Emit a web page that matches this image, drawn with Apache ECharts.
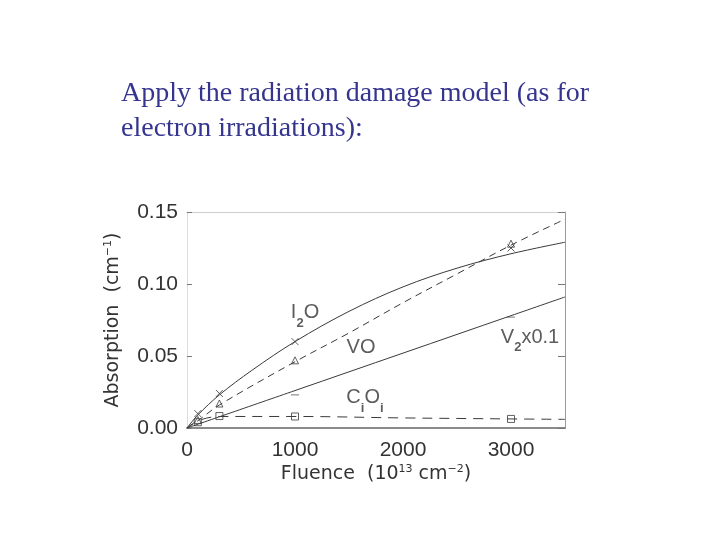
<!DOCTYPE html>
<html>
<head>
<meta charset="utf-8">
<script src="https://cdn.jsdelivr.net/npm/echarts@6/dist/echarts.min.js"></script>
<style>
  html, body { margin: 0; padding: 0; background: #fff; }
  #chart { width: 720px; height: 540px; }
</style>
</head>
<body>
<div id="chart"></div>
<script>
// Измеренные точки (флюенс, поглощение)
const i2oPoints = [[100, 0.010], [300, 0.024], [1000, 0.060], [3000, 0.125]];
const voPoints = [[100, 0.0056], [300, 0.017], [1000, 0.047], [3000, 0.128]];
const v2Points = [[1000, 0.023], [3000, 0.077]];
const cioiPoints = [[100, 0.004], [300, 0.0083], [1000, 0.008], [3000, 0.0063]];

// Кривые модели
const i2oModel = [[0, 0], [100, 0.009], [300, 0.023], [600, 0.040], [1000, 0.060], [1500, 0.081],
  [2000, 0.098], [2500, 0.111], [3000, 0.121], [3500, 0.129]];
const voModel = [[0, 0], [100, 0.005], [300, 0.016], [1000, 0.046], [1500, 0.066], [2000, 0.087],
  [2500, 0.107], [3000, 0.127], [3500, 0.145]];
const v2Model = [[0, 0], [1000, 0.026], [2000, 0.052], [3000, 0.078], [3500, 0.091]];
const cioiModel = [[0, 0], [100, 0.005], [300, 0.008], [1000, 0.008], [2000, 0.007], [3000, 0.0063], [3500, 0.006]];

// Подписи кривых
const curveLabels = [
  { at: [1093, 0.080], text: '{n|I}{s|2}{n|O}' },
  { at: [1611, 0.056], text: '{n|VO}' },
  { at: [3176, 0.063], text: '{n|V}{s|2}{n|x0.1}' },
  { at: [1648, 0.021], text: '{n|C}{s|i}{n|O}{s|i}' }
];

const ink = '#3a3a3a';
const axisFont = 'Liberation Sans, Arial, sans-serif';
const nameFont = 'DejaVu Sans, sans-serif';
const plotWidth = 720 - 187 - 155;

const chart = echarts.init(document.getElementById('chart'));

const line = (data, dash) => ({
  type: 'line', data: data, showSymbol: false, smooth: 0.35, silent: true,
  lineStyle: { color: ink, width: 1, type: dash || 'solid' }
});

const marks = (data, symbol, size) => ({
  type: 'scatter', data: data, symbol: symbol, symbolSize: size, silent: true,
  itemStyle: { color: 'none', borderColor: ink, borderWidth: 1 }
});

// ось только с тиками, смотрящими внутрь графика
const tickAxis = (position, len) => ({
  type: 'value', min: 0, max: 0.15, interval: 0.05, position: position, offset: -plotWidth,
  axisLine: { show: false, onZero: false },
  axisTick: { show: true, length: len, lineStyle: { color: '#777' } },
  axisLabel: { show: false }, splitLine: { show: false }
});

const richName = {
  n: { fontSize: 19, fontFamily: nameFont, color: '#333' },
  p: { fontSize: 11, fontFamily: nameFont, color: '#333', verticalAlign: 'top', lineHeight: 20 }
};

chart.setOption({
  backgroundColor: '#fff',
  animation: false,
  title: {
    text: 'Apply the radiation damage model (as for\nelectron irradiations):',
    left: 121, top: 76, padding: 0,
    textStyle: { fontFamily: 'Liberation Serif, Times New Roman, serif', fontSize: 28,
      fontWeight: 'normal', color: '#35358f', lineHeight: 35 }
  },
  grid: { left: 187, top: 212, right: 155, bottom: 112 },
  xAxis: [{
    type: 'value', min: 0, max: 3500, interval: 1000,
    axisLine: { onZero: false, lineStyle: { color: '#8a8a8a', width: 2 } },
    axisTick: { show: false },
    splitLine: { show: false },
    axisLabel: { fontSize: 21, fontFamily: axisFont, color: '#333', margin: 12,
      showMaxLabel: false, formatter: v => String(v) },
    name: '{n|Fluence  (10}{p|13}{n| cm}{p|−2}{n|)}',
    nameLocation: 'middle', nameGap: 36,
    nameTextStyle: { rich: richName }
  }, {
    type: 'value', min: 0, max: 3500, position: 'top',
    axisLine: { onZero: false, lineStyle: { color: '#cfcfcf', width: 1 } },
    axisTick: { show: false }, axisLabel: { show: false }, splitLine: { show: false }
  }],
  yAxis: [{
    type: 'value', min: 0, max: 0.15, interval: 0.05,
    axisLine: { show: true, onZero: false, lineStyle: { color: '#dddddd', width: 1 } },
    axisTick: { show: false },
    splitLine: { show: false },
    axisLabel: { fontSize: 21, fontFamily: axisFont, color: '#333', margin: 9,
      formatter: v => v.toFixed(2) },
    name: '{n|Absorption  (cm}{p|−1}{n|)}',
    nameLocation: 'middle', nameGap: 64, nameRotate: 90,
    nameTextStyle: { rich: richName }
  }, {
    type: 'value', min: 0, max: 0.15, interval: 0.05, position: 'right',
    axisLine: { show: true, onZero: false, lineStyle: { color: '#9a9a9a', width: 1 } },
    axisTick: { show: false }, axisLabel: { show: false }, splitLine: { show: false }
  },
    tickAxis('right', 5),
    tickAxis('left', 7)
  ],
  series: [
    line(i2oModel),
    line(voModel, [7, 5]),
    line(v2Model),
    line(cioiModel, [10, 7]),
    marks(i2oPoints, 'path://M0,0L10,10M10,0L0,10', 7),
    marks(voPoints, 'triangle', 7),
    marks(cioiPoints, 'rect', 7),
    {
      type: 'scatter', data: v2Points, symbol: 'rect', symbolSize: [8, 1], silent: true,
      itemStyle: { color: '#555' }
    },
    {
      type: 'scatter', silent: true, symbolSize: 0,
      data: curveLabels.map(d => ({ value: d.at, text: d.text })),
      label: {
        show: true, position: 'inside',
        formatter: p => p.data.text,
        rich: {
          n: { fontSize: 20, fontFamily: axisFont, color: '#333' },
          s: { fontSize: 13, fontFamily: axisFont, fontWeight: 'bold', color: '#333',
            verticalAlign: 'bottom', lineHeight: 34 }
        }
      }
    }
  ]
});
</script>
</body>
</html>
